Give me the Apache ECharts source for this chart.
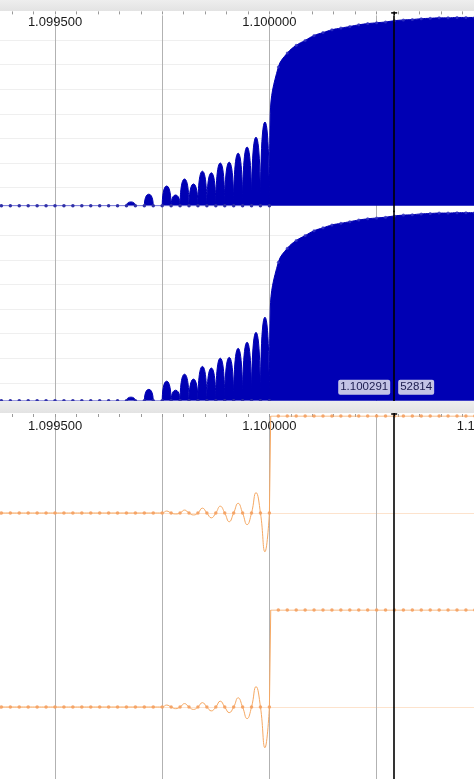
<!DOCTYPE html>
<html><head><meta charset="utf-8">
<script src="https://cdn.jsdelivr.net/npm/echarts@6/dist/echarts.min.js"></script>
<style>html,body{margin:0;padding:0;background:#fff}#c{width:474px;height:779px}</style>
</head><body><div id="c"></div>
<script>
// ---------------- data ----------------
const SAMPLE_RATE = 48000;
const FIRST_SAMPLE = 52770;
const LAST_SAMPLE = 52824;
const STEP_SAMPLE = 52800;
const CURSOR_TIME = 1.100291;
const TIME_MIN = 1.09925, TIME_MAX = 1.1005, TIME_GRID_STEP = 0.00025, TIME_LABEL_STEP = 0.0005;

// top view (dB level)
const DB_FLOOR = -46.4;
const LOBE_SAMPLES  = [52784, 52786, 52788, 52789, 52790, 52791, 52792, 52793, 52794, 52795, 52796, 52797, 52798, 52799];
const LOBE_PEAKS_DB = [-45.5, -43.6, -41.6, -43.8, -39.9, -41.1, -38.0, -38.4, -36.0, -35.8, -33.6, -32.1, -29.7, -26.0];
const ONSET_OFFSETS = [0.1];
const ONSET_DB = [-24];
const LEVEL_AFTER_STEP_DB = [-12.6, -9.2, -7.3, -6.1, -4.9, -4.2, -3.5, -3.1, -2.7, -2.3, -2.0, -1.8,
  -1.6, -1.3, -1.1, -1.0, -0.8, -0.7, -0.6, -0.6, -0.5, -0.5, -0.5, -0.5];

// bottom view (linear amplitude)
const RING_SAMPLES = [52788, 52789, 52790, 52791, 52792, 52793, 52794, 52795, 52796, 52797, 52798, 52799];
const RING_CH1 = [0.02, -0.01, 0.03, -0.02, 0.05, -0.05, 0.07, -0.09, 0.10, -0.12, 0.21, -0.40];
const RING_CH2 = [0.02, -0.017, 0.035, -0.025, 0.045, -0.04, 0.06, -0.058, 0.095, -0.12, 0.21, -0.42];
const AMP_BEFORE = 0, AMP_AFTER = 1;
const STEP_RISE_OFFSET = 0.15;

// ---------------- build ----------------
const t = n => n / SAMPLE_RATE;
const range = (a, b) => { const r = []; for (let i = a; i <= b; i++) r.push(i); return r; };

const BLUE = '#0000b4';
const ORANGE = '#f6a862';
const FONT = 'Liberation Sans, Arial, sans-serif';

function lobeData() {
  const d = [];
  LOBE_SAMPLES.forEach((n, i) => {
    d.push([t(n), DB_FLOOR], [t(n + 0.5), LOBE_PEAKS_DB[i]], [t(n + 1), DB_FLOOR], [t(n + 1), '-']);
  });
  return d;
}
const postSamples = LEVEL_AFTER_STEP_DB.map((v, i) => [t(STEP_SAMPLE + 1 + i), v]);
const envelope = [[t(STEP_SAMPLE), DB_FLOOR]]
  .concat(ONSET_OFFSETS.map((o, i) => [t(STEP_SAMPLE + o), ONSET_DB[i]]))
  .concat(postSamples);
const preSamples = range(FIRST_SAMPLE, STEP_SAMPLE).map(n => [t(n), DB_FLOOR]);

function ringData(ring) {
  const d = range(FIRST_SAMPLE, RING_SAMPLES[0]).map(n => [t(n), AMP_BEFORE]);
  RING_SAMPLES.forEach((n, i) => { d.push([t(n + 0.5), ring[i]]); d.push([t(n + 1), AMP_BEFORE]); });
  return d;
}
const stepData = [[t(STEP_SAMPLE), AMP_BEFORE], [t(STEP_SAMPLE + STEP_RISE_OFFSET), AMP_AFTER]]
  .concat(range(STEP_SAMPLE + 1, LAST_SAMPLE).map(n => [t(n), AMP_AFTER]));
const orangeSamples = range(FIRST_SAMPLE, STEP_SAMPLE).map(n => [t(n), AMP_BEFORE])
  .concat(range(STEP_SAMPLE + 1, LAST_SAMPLE).map(n => [t(n), AMP_AFTER]));

const cursorLine = {
  silent: true, symbol: 'none', animation: false, precision: 8,
  lineStyle: { color: '#000', width: 1.6, type: 'solid', opacity: 1 },
  label: { show: false }, data: [{ xAxis: CURSOR_TIME }]
};
function capPoints(yv, off) {
  return {
    silent: true, animation: false, itemStyle: { color: '#000' }, label: { show: false },
    data: [
      { coord: [CURSOR_TIME, yv], symbol: 'rect', symbolSize: [1.6, off * 2], symbolOffset: [0, -off] },
      { coord: [CURSOR_TIME, yv], symbol: 'rect', symbolSize: [6, 1.5], symbolOffset: [0, -off - 0.5] }
    ]
  };
}

const GRID_L = -52.2, GRID_R = -9.8;
const gridBase = { left: GRID_L, right: GRID_R, outerBoundsMode: 'none', containLabel: false };
const grids = [
  Object.assign({ top: 15.4, height: 196.8 }, gridBase),
  Object.assign({ top: 210.6, height: 196.8 }, gridBase),
  Object.assign({ top: 416, height: 194 }, gridBase),
  Object.assign({ top: 610, height: 194 }, gridBase)
];

const isLabel = v => Math.abs(Math.round(v / TIME_LABEL_STEP) * TIME_LABEL_STEP - v) < 1e-9;
function xAxis(i, ruler, offset, margin) {
  return {
    type: 'value', gridIndex: i, min: TIME_MIN, max: TIME_MAX, interval: TIME_GRID_STEP,
    position: 'top', offset: offset || 0,
    axisLine: { show: false, onZero: false },
    axisTick: { show: ruler, inside: true, length: 3, lineStyle: { color: '#9a9a9a' } },
    minorTick: { show: ruler, splitNumber: 5, length: 3, lineStyle: { color: '#9a9a9a' } },
    axisLabel: {
      show: ruler, inside: true, margin: margin || 0, interval: 0, color: '#1a1a1a', fontSize: 13, fontFamily: FONT,
      formatter: v => isLabel(v) ? v.toFixed(6) : ''
    },
    splitLine: { show: true, lineStyle: { color: '#b2b2b2', width: 1 } }
  };
}
function yAxis(i, min, max, interval, color) {
  return {
    type: 'value', gridIndex: i, min, max, interval,
    axisLine: { show: false, onZero: false }, axisTick: { show: false }, axisLabel: { show: false },
    splitLine: { show: true, showMinLine: false, showMaxLine: false, lineStyle: { color, width: 1 } }
  };
}

function blueSeries(gi, extra) {
  return [
    { type: 'line', xAxisIndex: gi, yAxisIndex: gi, data: lobeData(), smooth: 1, connectNulls: false,
      symbol: 'none', lineStyle: { color: BLUE, width: 1 }, areaStyle: { color: BLUE, opacity: 1, origin: DB_FLOOR }, z: 3 },
    { type: 'line', xAxisIndex: gi, yAxisIndex: gi, data: envelope, smooth: 0.4,
      symbol: 'none', lineStyle: { color: BLUE, width: 1 }, areaStyle: { color: BLUE, opacity: 1, origin: DB_FLOOR }, z: 3 },
    Object.assign({ type: 'line', xAxisIndex: gi, yAxisIndex: gi, data: preSamples,
      symbol: 'circle', symbolSize: 3.5, showAllSymbol: true,
      lineStyle: { color: '#7272d6', width: 1 }, itemStyle: { color: '#3030a8' }, z: 4,
      markLine: cursorLine }, extra || {}),
    { type: 'scatter', xAxisIndex: gi, yAxisIndex: gi, data: postSamples, symbol: 'circle', symbolSize: 3,
      itemStyle: { color: '#3434c4' }, z: 4 }
  ];
}
function orangeSeries(gi, ring, extra) {
  return [
    { type: 'line', xAxisIndex: gi, yAxisIndex: gi, data: ringData(ring), smooth: 0.5, symbol: 'none',
      lineStyle: { color: ORANGE, width: 1 }, z: 3 },
    { type: 'line', xAxisIndex: gi, yAxisIndex: gi, data: stepData, symbol: 'none',
      lineStyle: { color: ORANGE, width: 1 }, z: 3 },
    Object.assign({ type: 'scatter', xAxisIndex: gi, yAxisIndex: gi, data: orangeSamples, symbol: 'circle', symbolSize: 3.5,
      itemStyle: { color: '#f4a060', opacity: 0.9 }, z: 4, markLine: cursorLine }, extra || {})
  ];
}

const readout = {
  silent: true, animation: false, symbol: 'circle', symbolSize: 0.01,
  data: [
    { coord: [CURSOR_TIME, -43.1], label: { show: true, position: 'left', distance: 4, formatter: CURSOR_TIME.toFixed(6),
      backgroundColor: 'rgba(212,212,234,0.92)', color: '#1b1b4e', fontSize: 11.5, fontFamily: FONT, padding: [2, 2, 1, 2], borderRadius: 2 } },
    { coord: [CURSOR_TIME, -43.1], label: { show: true, position: 'right', distance: 4,
      formatter: String(Math.round(CURSOR_TIME * SAMPLE_RATE)),
      backgroundColor: 'rgba(212,212,234,0.92)', color: '#1b1b4e', fontSize: 11.5, fontFamily: FONT, padding: [2, 2, 1, 2], borderRadius: 2 } }
  ]
};

const option = {
  animation: false,
  backgroundColor: '#ffffff',
  grid: grids,
  xAxis: [xAxis(0, true, 4, 4.5), xAxis(1, false), xAxis(2, true, 2, 6), xAxis(3, false)],
  yAxis: [yAxis(0, -48, 0, 6, '#efefef'), yAxis(1, -48, 0, 6, '#efefef'),
          yAxis(2, -1, 1, 1, '#fde3cd'), yAxis(3, -1, 1, 1, '#fde3cd')],
  graphic: [
    { type: 'rect', z: 100, shape: { x: 0, y: 0, width: 474, height: 11 },
      style: { fill: new echarts.graphic.LinearGradient(0, 0, 0, 1, [{ offset: 0, color: '#eeeeee' }, { offset: 1, color: '#e3e3e3' }]) } },
    { type: 'rect', z: 100, shape: { x: 0, y: 401, width: 474, height: 12 },
      style: { fill: new echarts.graphic.LinearGradient(0, 0, 0, 1, [{ offset: 0, color: '#eeeeee' }, { offset: 1, color: '#e3e3e3' }]) } }
  ],
  series: [].concat(
    blueSeries(0, { markPoint: capPoints(0, 2) }),
    blueSeries(1, { markPoint: readout }),
    orangeSeries(2, RING_CH1, { markPoint: capPoints(1, 1.5) }),
    orangeSeries(3, RING_CH2)
  )
};
const chart = echarts.init(document.getElementById('c'), null, { renderer: 'canvas' });
chart.setOption(option);
</script></body></html>
